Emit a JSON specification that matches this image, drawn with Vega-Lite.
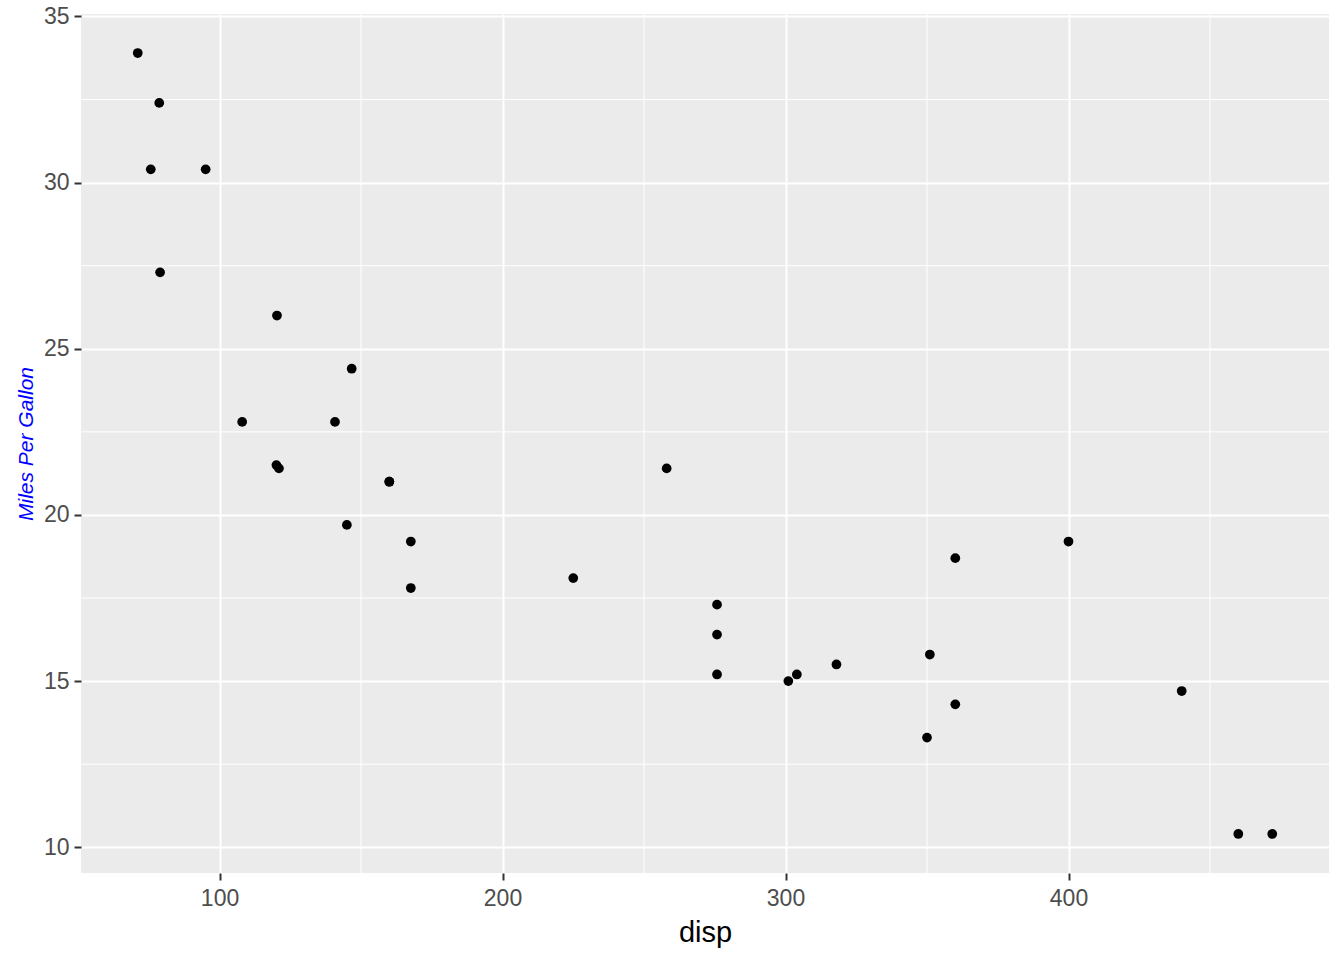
{
  "$schema": "https://vega.github.io/schema/vega-lite/v6.json",
  "width": 1248,
  "height": 859,
  "autosize": {"type": "none"},
  "padding": {"left": 81, "top": 14, "right": 15, "bottom": 87},
  "background": "white",
  "config": {
    "view": {"fill": "#EBEBEB", "stroke": null},
    "font": "Liberation Sans",
    "axis": {
      "domain": false,
      "grid": true,
      "gridColor": "white",
      "gridWidth": 2,
      "tickColor": "#333333",
      "tickWidth": 2,
      "tickSize": 7,
      "labelColor": "#4D4D4D",
      "labelFont": "Liberation Sans",
      "labelFontSize": 23,
      "labelPadding": 4,
      "titleFont": "Liberation Sans",
      "titleFontWeight": "normal"
    }
  },
  "datasets": {
    "mtcars": [
      {"car": "Mazda RX4", "mpg": 21.0, "disp": 160},
      {"car": "Mazda RX4 Wag", "mpg": 21.0, "disp": 160},
      {"car": "Datsun 710", "mpg": 22.8, "disp": 108},
      {"car": "Hornet 4 Drive", "mpg": 21.4, "disp": 258},
      {"car": "Hornet Sportabout", "mpg": 18.7, "disp": 360},
      {"car": "Valiant", "mpg": 18.1, "disp": 225},
      {"car": "Duster 360", "mpg": 14.3, "disp": 360},
      {"car": "Merc 240D", "mpg": 24.4, "disp": 146.7},
      {"car": "Merc 230", "mpg": 22.8, "disp": 140.8},
      {"car": "Merc 280", "mpg": 19.2, "disp": 167.6},
      {"car": "Merc 280C", "mpg": 17.8, "disp": 167.6},
      {"car": "Merc 450SE", "mpg": 16.4, "disp": 275.8},
      {"car": "Merc 450SL", "mpg": 17.3, "disp": 275.8},
      {"car": "Merc 450SLC", "mpg": 15.2, "disp": 275.8},
      {"car": "Cadillac Fleetwood", "mpg": 10.4, "disp": 472},
      {"car": "Lincoln Continental", "mpg": 10.4, "disp": 460},
      {"car": "Chrysler Imperial", "mpg": 14.7, "disp": 440},
      {"car": "Fiat 128", "mpg": 32.4, "disp": 78.7},
      {"car": "Honda Civic", "mpg": 30.4, "disp": 75.7},
      {"car": "Toyota Corolla", "mpg": 33.9, "disp": 71.1},
      {"car": "Toyota Corona", "mpg": 21.5, "disp": 120.1},
      {"car": "Dodge Challenger", "mpg": 15.5, "disp": 318},
      {"car": "AMC Javelin", "mpg": 15.2, "disp": 304},
      {"car": "Camaro Z28", "mpg": 13.3, "disp": 350},
      {"car": "Pontiac Firebird", "mpg": 19.2, "disp": 400},
      {"car": "Fiat X1-9", "mpg": 27.3, "disp": 79},
      {"car": "Porsche 914-2", "mpg": 26.0, "disp": 120.3},
      {"car": "Lotus Europa", "mpg": 30.4, "disp": 95.1},
      {"car": "Ford Pantera L", "mpg": 15.8, "disp": 351},
      {"car": "Ferrari Dino", "mpg": 19.7, "disp": 145},
      {"car": "Maserati Bora", "mpg": 15.0, "disp": 301},
      {"car": "Volvo 142E", "mpg": 21.4, "disp": 121}
    ],
    "minorX": [{"v": 150}, {"v": 250}, {"v": 350}, {"v": 450}],
    "minorY": [{"v": 12.5}, {"v": 17.5}, {"v": 22.5}, {"v": 27.5}, {"v": 32.5}]
  },
  "layer": [
    {
      "data": {"name": "minorX"},
      "mark": {"type": "rule", "color": "white", "strokeWidth": 1},
      "encoding": {
        "x": {"field": "v", "type": "quantitative"}
      }
    },
    {
      "data": {"name": "minorY"},
      "mark": {"type": "rule", "color": "white", "strokeWidth": 1},
      "encoding": {
        "y": {"field": "v", "type": "quantitative"}
      }
    },
    {
      "data": {"name": "mtcars"},
      "mark": {"type": "point", "filled": true, "color": "black", "opacity": 1, "size": 95},
      "encoding": {
        "x": {
          "field": "disp",
          "type": "quantitative",
          "scale": {"domain": [51.05, 492.05], "nice": false, "zero": false},
          "axis": {"values": [100, 200, 300, 400], "title": "disp", "titleFontSize": 29, "titleColor": "black", "titlePadding": 8, "labelPadding": 7}
        },
        "y": {
          "field": "mpg",
          "type": "quantitative",
          "scale": {"domain": [9.225, 35.075], "nice": false, "zero": false},
          "axis": {"values": [10, 15, 20, 25, 30, 35], "title": "Miles Per Gallon", "titleFontSize": 21, "titleColor": "blue", "titleFontStyle": "italic", "titlePadding": 7, "labelPadding": 5}
        }
      }
    }
  ]
}
